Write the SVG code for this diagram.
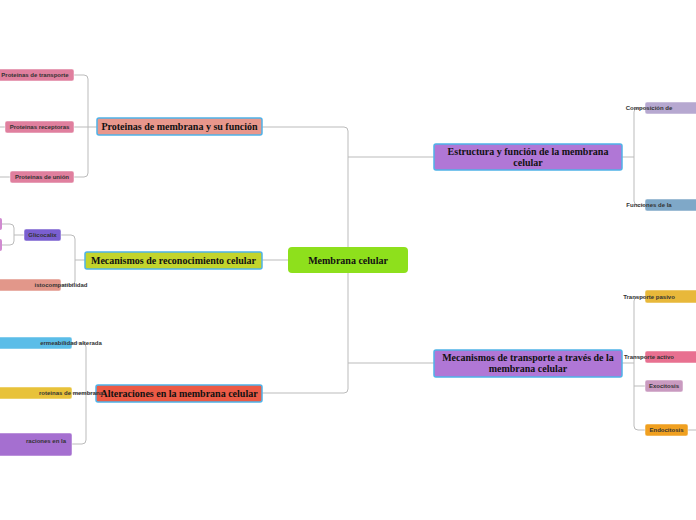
<svg xmlns="http://www.w3.org/2000/svg" width="696" height="520" viewBox="0 0 696 520">
<style>
.m{stroke:#4fb2e8;stroke-width:1.5}
.mt{font-family:"Liberation Serif",serif;font-weight:bold;font-size:10px;fill:#111;text-anchor:middle}
.s{stroke:#fff;stroke-width:0.5}
.st{font-family:"Liberation Sans",sans-serif;font-weight:bold;font-size:6px;fill:#333;text-anchor:middle}
.c{fill:none;stroke:#bbb;stroke-width:1}
</style>
<rect width="696" height="520" fill="#fff"/>
<g id="connectors">
<path class="c" d="M262 127H344Q348 127 348 131V389Q348 393 344 393H262M262 260H348M348 157H434M348 363H434"/>
<path class="c" d="M97 127H88M74 75H84Q88 75 88 79V173Q88 177 84 177H74M74 127H88M5 127H0M10 177H0"/>
<path class="c" d="M85 260H75M61 285H71Q75 285 75 281V239Q75 235 71 235H61M24 235H14M2 224H10Q14 224 14 228V241Q14 245 10 245H2"/>
<path class="c" d="M96 393H86M72 343H82Q86 343 86 347V440Q86 444 82 444H72M72 393H86"/>
<path class="c" d="M622 157H634M645 108H638Q634 108 634 112V201Q634 205 638 205H645"/>
<path class="c" d="M622 363H634M645 297H638Q634 297 634 301V426Q634 430 638 430H645M634 357H645M634 386H645M688 430H696"/>
</g>
<g id="center"><rect x="288" y="247" width="120" height="26" rx="4" fill="#8ee01c"/><text class="mt" x="348" y="264" font-size="11">Membrana celular</text></g>
<g id="n-proteinas"><rect class="m" x="97" y="118" width="165" height="17" rx="2" fill="#e8978c"/><text class="mt" x="179.5" y="130">Proteinas de membrana y su función</text></g>
<g id="n-reconocimiento"><rect class="m" x="85" y="252" width="177" height="17" rx="2" fill="#c3d42c"/><text class="mt" x="173.5" y="264">Mecanismos de reconocimiento celular</text></g>
<g id="n-alteraciones"><rect class="m" x="96" y="385" width="166" height="17" rx="2" fill="#ec5a45"/><text class="mt" x="179" y="397">Alteraciones en la membrana celular</text></g>
<g id="n-estructura"><rect class="m" x="434" y="144" width="188" height="26" rx="2" fill="#b077d6"/><text class="mt" x="528" y="155">Estructura y función de la membrana</text><text class="mt" x="528" y="166">celular</text></g>
<g id="n-transporte"><rect class="m" x="434" y="350" width="188" height="27" rx="2" fill="#b077d6"/><text class="mt" x="528" y="361">Mecanismos de transporte a través de la</text><text class="mt" x="528" y="372">membrana celular</text></g>
<g id="c1"><rect class="s" x="-4" y="69" width="78" height="12" rx="2" fill="#e07f9e"/><text class="st" x="35" y="77">Proteinas de transporte</text></g>
<g id="c2"><rect class="s" x="5" y="121" width="69" height="12" rx="2" fill="#e07f9e"/><text class="st" x="39.5" y="129">Proteinas receptoras</text></g>
<g id="c3"><rect class="s" x="10" y="171" width="64" height="12" rx="2" fill="#e07f9e"/><text class="st" x="42" y="179">Proteinas de unión</text></g>
<g id="c4"><rect class="s" x="24" y="229" width="37" height="12" rx="2" fill="#7a5fd0"/><text class="st" x="42.5" y="237">Glicocalix</text></g>
<g id="c4a"><rect x="-4" y="218" width="6" height="12" rx="2" fill="#d08ad0"/></g>
<g id="c4b"><rect x="-4" y="239" width="6" height="12" rx="2" fill="#d08ad0"/></g>
<g id="c5"><rect class="s" x="-20" y="279" width="81" height="12" rx="2" fill="#e2978a"/><text class="st" x="61" y="287" text-anchor="end">istocompatibilidad</text></g>
<g id="c6"><rect class="s" x="-20" y="337" width="92" height="12" rx="2" fill="#5bbde8"/><text class="st" x="71" y="345" text-anchor="end">ermeabilidad alterada</text></g>
<g id="c7"><rect class="s" x="-20" y="387" width="92" height="12" rx="2" fill="#e8c23a"/><text class="st" x="71" y="395" text-anchor="end">roteinas de membrana</text></g>
<g id="c8"><rect class="s" x="-20" y="433" width="92" height="23" rx="2" fill="#a56fd0"/><text class="st" x="46" y="443" font-size="7" font-weight="normal" fill="#222" text-anchor="end">raciones en la</text></g>
<g id="c9"><rect class="s" x="645" y="102" width="60" height="12" rx="2" fill="#b6a8d0"/><text class="st" x="649" y="110" text-anchor="start">Composición de</text></g>
<g id="c10"><rect class="s" x="645" y="199" width="60" height="12" rx="2" fill="#7fa8c8"/><text class="st" x="649" y="207" text-anchor="start">Funciones de la</text></g>
<g id="c11"><rect class="s" x="645" y="290" width="60" height="13" rx="2" fill="#e8b83a"/><text class="st" x="649" y="299" text-anchor="start" fill="#111">Transporte pasivo</text></g>
<g id="c12"><rect class="s" x="645" y="351" width="60" height="12" rx="2" fill="#e87090"/><text class="st" x="649" y="359" text-anchor="start">Transporte activo</text></g>
<g id="c13"><rect class="s" x="645" y="380" width="38" height="12" rx="2" fill="#c99ac0"/><text class="st" x="664" y="388">Exocitosis</text></g>
<g id="c14"><rect class="s" x="645" y="424" width="43" height="12" rx="2" fill="#f0a020"/><text class="st" x="666.5" y="432">Endocitosis</text></g>
</svg>
